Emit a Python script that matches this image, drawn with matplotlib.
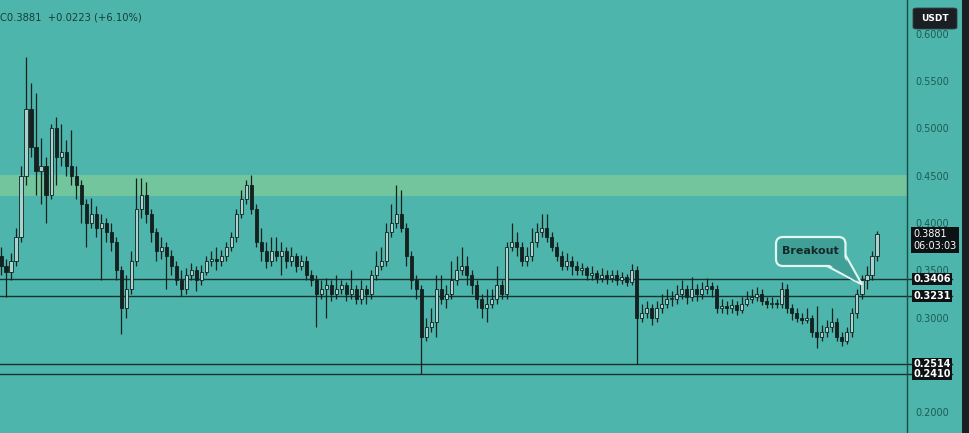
import matplotlib
matplotlib.use("Agg")
import matplotlib.pyplot as plt
from matplotlib.patches import Rectangle, FancyBboxPatch, Polygon
import matplotlib.transforms as mtransforms

# ---------------- data ----------------
first_open = 0.365
closes = [
    0.355, 0.348, 0.36, 0.385, 0.45, 0.52, 0.48, 0.455, 0.46, 0.43,
    0.50, 0.47, 0.475, 0.46, 0.45, 0.44, 0.42, 0.40, 0.41, 0.395,
    0.40, 0.39, 0.38, 0.35, 0.31, 0.33, 0.36, 0.415, 0.43, 0.41,
    0.39, 0.37, 0.375, 0.365, 0.355, 0.34, 0.33, 0.345, 0.35, 0.34,
    0.348, 0.36, 0.362, 0.36, 0.365, 0.375, 0.385, 0.41, 0.425, 0.44,
    0.415, 0.38, 0.37, 0.36, 0.37, 0.365, 0.37, 0.36, 0.365, 0.355,
    0.36, 0.345, 0.34, 0.325, 0.33, 0.335, 0.325, 0.33, 0.335, 0.325,
    0.33, 0.32, 0.33, 0.325, 0.345, 0.355, 0.36, 0.39, 0.40, 0.41,
    0.395, 0.365, 0.34, 0.33, 0.28, 0.29, 0.295, 0.33, 0.32, 0.325,
    0.34, 0.35, 0.355, 0.345, 0.335, 0.32, 0.31, 0.315, 0.32, 0.335,
    0.325, 0.375, 0.38, 0.375, 0.36, 0.365, 0.38, 0.39, 0.395, 0.385,
    0.375, 0.365, 0.355, 0.36, 0.355, 0.35, 0.352, 0.345, 0.347, 0.342,
    0.345, 0.342, 0.345, 0.34, 0.343, 0.338, 0.35, 0.30, 0.305, 0.31,
    0.30, 0.31, 0.315, 0.32, 0.32, 0.325, 0.33, 0.322, 0.33, 0.325,
    0.33, 0.333, 0.33, 0.31, 0.312, 0.31, 0.313, 0.308, 0.315, 0.32,
    0.322, 0.325, 0.318, 0.315, 0.316, 0.314, 0.33, 0.31, 0.305, 0.30,
    0.298, 0.30, 0.285, 0.28, 0.285, 0.29, 0.295, 0.28, 0.275, 0.285,
    0.305, 0.325, 0.34, 0.345, 0.365, 0.3881,
]
highs = [
    0.375, 0.362, 0.368, 0.395, 0.46, 0.575, 0.548, 0.537, 0.49, 0.47,
    0.505, 0.512, 0.505, 0.488, 0.498, 0.46, 0.445, 0.425, 0.426, 0.418,
    0.41, 0.405, 0.40, 0.385, 0.355, 0.345, 0.37, 0.447, 0.447, 0.443,
    0.415, 0.395, 0.385, 0.38, 0.372, 0.36, 0.35, 0.352, 0.358, 0.355,
    0.356, 0.365, 0.37, 0.375, 0.372, 0.38, 0.39, 0.415, 0.435, 0.445,
    0.451, 0.42, 0.395, 0.38, 0.385, 0.385, 0.38, 0.375, 0.375, 0.368,
    0.366, 0.365, 0.35, 0.345, 0.34, 0.342, 0.34, 0.345, 0.34, 0.338,
    0.35, 0.335, 0.34, 0.335, 0.35, 0.37, 0.375, 0.40, 0.42, 0.44,
    0.435, 0.40, 0.37, 0.345, 0.335, 0.30, 0.31, 0.345, 0.345, 0.335,
    0.36, 0.365, 0.375, 0.365, 0.35, 0.34, 0.325, 0.33, 0.33, 0.355,
    0.34, 0.38, 0.40, 0.39, 0.38, 0.375, 0.395, 0.40, 0.41, 0.41,
    0.39, 0.38, 0.37, 0.368, 0.365, 0.36, 0.358, 0.355, 0.355, 0.35,
    0.352, 0.35, 0.35, 0.35, 0.348, 0.346, 0.357, 0.355, 0.315, 0.318,
    0.315, 0.318, 0.325, 0.33, 0.328, 0.335, 0.34, 0.335, 0.343, 0.336,
    0.338, 0.342, 0.338, 0.335, 0.32, 0.318, 0.32, 0.318, 0.322, 0.328,
    0.33, 0.332, 0.33, 0.322, 0.322, 0.32, 0.338, 0.336, 0.315, 0.31,
    0.305, 0.31, 0.303, 0.312, 0.292, 0.298, 0.31, 0.30, 0.285, 0.29,
    0.31, 0.33, 0.345, 0.355, 0.37, 0.392,
]
lows = [
    0.345, 0.322, 0.34, 0.355, 0.38, 0.44, 0.47, 0.43, 0.42, 0.40,
    0.425, 0.44, 0.46, 0.45, 0.44, 0.425, 0.40, 0.375, 0.395, 0.385,
    0.34, 0.38, 0.37, 0.34, 0.283, 0.30, 0.325, 0.355, 0.405, 0.40,
    0.38, 0.36, 0.362, 0.33, 0.345, 0.335, 0.323, 0.325, 0.34, 0.328,
    0.335, 0.345, 0.355, 0.35, 0.355, 0.36, 0.37, 0.38, 0.405, 0.42,
    0.41, 0.375, 0.36, 0.352, 0.355, 0.36, 0.345, 0.352, 0.355, 0.348,
    0.35, 0.34, 0.333, 0.29, 0.32, 0.30, 0.318, 0.32, 0.325, 0.318,
    0.32, 0.315, 0.315, 0.315, 0.32, 0.34, 0.35, 0.355, 0.385, 0.395,
    0.39, 0.355, 0.33, 0.32, 0.241, 0.275, 0.285, 0.28, 0.315, 0.31,
    0.32, 0.335, 0.345, 0.335, 0.325, 0.31, 0.30, 0.295, 0.31, 0.315,
    0.32, 0.32, 0.37, 0.365, 0.355, 0.355, 0.36, 0.375, 0.385, 0.38,
    0.37, 0.36, 0.35, 0.35, 0.345, 0.345, 0.345, 0.34, 0.34, 0.337,
    0.338, 0.336, 0.338, 0.335, 0.336, 0.333, 0.335, 0.251, 0.295, 0.30,
    0.292, 0.295, 0.305, 0.31, 0.312, 0.315, 0.32, 0.315, 0.318, 0.318,
    0.32, 0.325, 0.322, 0.305, 0.305, 0.304, 0.305, 0.303, 0.305, 0.312,
    0.316, 0.318, 0.313, 0.31, 0.31, 0.31, 0.31, 0.305, 0.298, 0.295,
    0.293, 0.294, 0.28, 0.268, 0.275, 0.28, 0.285, 0.275, 0.27, 0.272,
    0.28, 0.30, 0.32, 0.33, 0.34, 0.36,
]
level_prices = [0.3406, 0.3231, 0.2514, 0.2410]
level_labels = ["0.3406", "0.3231", "0.2514", "0.2410"]
zone_low, zone_high = 0.429, 0.451
tick_values = [0.20, 0.30, 0.35, 0.40, 0.45, 0.50, 0.55, 0.60]
tick_labels = ["0.2000", "0.3000", "0.3500", "0.4000", "0.4500", "0.5000", "0.5500", "0.6000"]
last_price_label = "0.3881"
countdown_label = "06:03:03"
header_text = "C0.3881  +0.0223 (+6.10%)"
quote_currency = "USDT"
callout_text = "Breakout"

# ---------------- style ----------------
BG = "#4db5ab"
ZONE = "#72c59c"
DARK = "#14211f"
UP_FACE = "#a6d3cd"
TICK_COLOR = "#1d5c57"
CALL_FACE = "#40a098"
CALL_EDGE = "#e2f7f3"

W, H = 970, 433
fig = plt.figure(figsize=(W / 100, H / 100), dpi=100)
fig.patch.set_facecolor(BG)
ax = fig.add_axes([0, 0, 907 / W, 1])
ax.set_facecolor(BG)

n = len(closes)
opens = [first_open] + closes[:-1]
xs = list(range(n))

# zone
ax.axhspan(zone_low, zone_high, color=ZONE, lw=0, zorder=1)

btf = mtransforms.blended_transform_factory(ax.transAxes, ax.transData)

# levels
for p in level_prices:
    ax.axhline(p, color="#173331", lw=1.0, zorder=2)
    ax.plot([1.0, 1.05], [p, p], transform=btf, color="#173331", lw=1.0, clip_on=False, zorder=2)

# candles
ax.vlines(xs, lows, highs, color=DARK, lw=0.9, zorder=3)
for i in range(n):
    o, c = opens[i], closes[i]
    bottom = min(o, c)
    height = max(abs(c - o), 0.0008)
    up = c >= o
    ax.bar(i, height, bottom=bottom, width=0.62,
           color=UP_FACE if up else DARK, edgecolor=DARK, linewidth=0.6, zorder=4)

# axis limits (pixel mapping: 0.6 at y=33.5px, 0.1 per 94.75px)
ymax = 0.6 + 33.5 / 947.5
ymin = 0.6 - (433 - 33.5) / 947.5
ax.set_ylim(ymin, ymax)
ax.set_xlim(-0.2, (907 - 1) / 5 - 0.2)

ax.yaxis.tick_right()
ax.set_yticks(tick_values)
ax.set_yticklabels(tick_labels)
ax.tick_params(axis="y", length=0, pad=6, labelsize=7, labelcolor=TICK_COLOR)
ax.set_xticks([])
for s in ["top", "left", "bottom"]:
    ax.spines[s].set_visible(False)
ax.spines["right"].set_color("#1f4a46")
ax.spines["right"].set_linewidth(1.0)

# price label boxes on axis
for p, lab in zip(level_prices, level_labels):
    ax.text(1.007, p, lab, transform=btf, ha="left", va="center", fontsize=7, color="white",
            fontweight="bold", clip_on=False, zorder=10,
            bbox=dict(boxstyle="square,pad=0.12", fc="#0d1214", ec="none"))
ax.text(1.007, closes[-1] - 0.006, last_price_label + "\n" + countdown_label, transform=btf,
        ha="left", va="center", fontsize=7, color="white", linespacing=1.25,
        clip_on=False, zorder=10,
        bbox=dict(boxstyle="square,pad=0.2", fc="#0d1214", ec="none"))

# callout (drawn in display pixels; origin bottom-left)
def py(y_img):
    return H - y_img

tail_outer = [(826, py(265.5)), (862, py(284.5)), (845.5, py(255))]
tail = Polygon(tail_outer, closed=True, transform=None, fc=CALL_FACE, ec=CALL_EDGE, lw=1.5,
               zorder=11, joinstyle="miter")
fig.patches.append(tail)
box = FancyBboxPatch((776, py(266)), 69.5, 29, boxstyle="round,pad=0,rounding_size=7",
                     transform=None, fc=CALL_FACE, ec=CALL_EDGE, lw=1.6, zorder=12)
fig.patches.append(box)
cover = Polygon([(828.5, py(264.3)), (857, py(281.5)), (844.2, py(257))], closed=True,
                transform=None, fc=CALL_FACE, ec="none", zorder=13)
fig.patches.append(cover)
fig.text(810.5 / W, 1 - 251 / H, callout_text, ha="center", va="center", fontsize=8,
         fontweight="semibold", color="#142a28", zorder=14)

# header text
fig.text(0 / W, 1 - 17 / H, header_text, ha="left", va="center", fontsize=7.2, color="#163f3b")

# USDT box
fig.patches.append(FancyBboxPatch((913 / W, 1 - 29 / H), 44 / W, 21 / H,
                                  boxstyle="round,pad=0,rounding_size=0.004",
                                  transform=fig.transFigure, fc="#1a1f24", ec="#3a4048", lw=0.6))
fig.text(935 / W, 1 - 18.5 / H, quote_currency, ha="center", va="center", fontsize=6.5,
         color="white", fontweight="bold")

# right dark strip
fig.patches.append(Rectangle((962 / W, 0), 8 / W, 1, transform=fig.transFigure,
                             fc="#1b1f24", ec="none"))

fig.savefig("out.png", dpi=100, facecolor=BG)
